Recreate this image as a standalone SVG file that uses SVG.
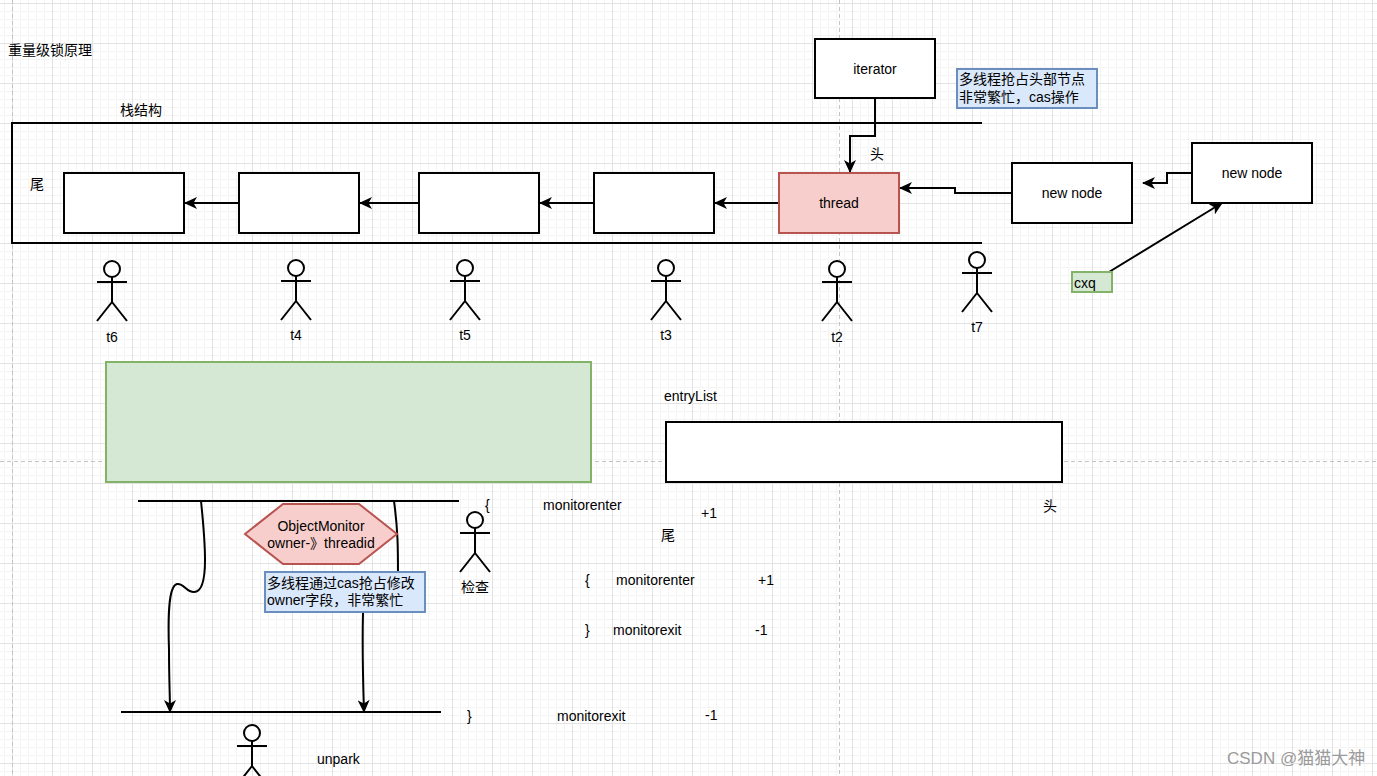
<svg xmlns="http://www.w3.org/2000/svg" width="1377" height="776" viewBox="0 0 1377 776">
<style>
text{font-family:"Liberation Sans","Noto Sans CJK SC",sans-serif;font-size:14px;fill:#000}
.c{text-anchor:middle}
.box{fill:#fff;stroke:#000;stroke-width:2}
.ln{fill:none;stroke:#000;stroke-width:2}
.conn{fill:none;stroke:#000;stroke-width:2;marker-end:url(#arr)}
.blue{fill:#dae8fc;stroke:#6c8ebf;stroke-width:2}
.red{fill:#f8cecc;stroke:#b85450;stroke-width:2}
.green{fill:#d5e8d4;stroke:#82b366;stroke-width:2}
.dash{stroke:#c4c4c4;stroke-width:1;stroke-dasharray:4 3;fill:none}
.wm{font-size:17px;fill:#9a9a9a}
</style>
<defs>
<marker id="arr" markerWidth="13" markerHeight="12" refX="12" refY="6" orient="auto" markerUnits="userSpaceOnUse" viewBox="0 0 13 12">
<path d="M0 0L13 6L0 12L3.500 6Z" fill="#000"/>
</marker>
<pattern id="minor" width="8" height="8" patternUnits="userSpaceOnUse" x="4" y="3">
<path d="M8 0.500H0.500V8" fill="none" stroke="#f4f4f4" stroke-width="1"/>
</pattern>
<pattern id="major" width="40" height="40" patternUnits="userSpaceOnUse" x="12" y="3">
<path d="M40 0.500H0.500V40" fill="none" stroke="#e2e2e2" stroke-width="1"/>
</pattern>
<g id="actor">
<circle cx="0" cy="0" r="8" fill="#fff" stroke="#000" stroke-width="2"/>
<path d="M0 8V33M-15 13H15M0 33L-15 52M0 33L15 52" class="ln"/>
</g>
</defs>
<rect width="1377" height="776" fill="#fff"/>
<rect width="1377" height="776" fill="url(#minor)"/>
<rect width="1377" height="776" fill="url(#major)"/>
<path class="dash" d="M12.500 0V776M839.500 0V776M0 461.500H1377"/>

<text x="8" y="55">重量级锁原理</text>
<text x="120" y="115">栈结构</text>
<text x="30" y="189">尾</text>
<text x="870" y="159">头</text>
<path class="ln" d="M982 123H12V243H982"/>
<path class="ln" d="M138 501H459M121 712H441"/>

<g id="connectors">
<path class="conn" d="M239 203H185"/>
<path class="conn" d="M419 203H360"/>
<path class="conn" d="M594 203H540"/>
<path class="conn" d="M779 203H715"/>
<path class="conn" d="M875 99V136H850V172"/>
<path class="conn" d="M1012 193H955V188H900"/>
<path class="conn" d="M1192 173H1167V183H1143"/>
<path class="conn" d="M1109 272L1222 203"/>
<path class="conn" d="M201 501C204 530 205 545 205 560C205 578 202 592 194 592C186 592 184 583 177 584C168 586 168 620 169 650C169 680 170 695 170 712"/>
<path class="conn" d="M394 501C398 530 398 550 398 575C398 590 366 600 363 613C362 650 363 680 364 712"/>
</g>

<g id="n-t6-box"><rect class="box" x="64" y="173" width="120" height="60"/></g>
<g id="n-t4-box"><rect class="box" x="239" y="173" width="120" height="60"/></g>
<g id="n-t5-box"><rect class="box" x="419" y="173" width="120" height="60"/></g>
<g id="n-t3-box"><rect class="box" x="594" y="173" width="120" height="60"/></g>
<g id="n-thread"><rect class="red" x="779" y="173" width="120" height="60"/><text class="c" x="839" y="208">thread</text></g>
<g id="n-iterator"><rect class="box" x="815" y="39" width="120" height="59"/><text class="c" x="875" y="74">iterator</text></g>
<g id="n-note1"><rect class="blue" x="957" y="69" width="140" height="39"/><text x="959" y="84">多线程抢占头部节点</text><text x="959" y="102">非常繁忙，cas操作</text></g>
<g id="n-new1"><rect class="box" x="1012" y="163" width="120" height="60"/><text class="c" x="1072" y="198">new node</text></g>
<g id="n-new2"><rect class="box" x="1192" y="143" width="120" height="60"/><text class="c" x="1252" y="178">new node</text></g>
<g id="n-cxq"><rect class="green" x="1072" y="272" width="40" height="20"/><text x="1074" y="288">cxq</text></g>

<g id="a-t6"><use href="#actor" x="112" y="269"/><text class="c" x="112" y="342">t6</text></g>
<g id="a-t4"><use href="#actor" x="296" y="268"/><text class="c" x="296" y="340">t4</text></g>
<g id="a-t5"><use href="#actor" x="465" y="268"/><text class="c" x="465" y="340">t5</text></g>
<g id="a-t3"><use href="#actor" x="666" y="268"/><text class="c" x="666" y="340">t3</text></g>
<g id="a-t2"><use href="#actor" x="837" y="269"/><text class="c" x="837" y="342">t2</text></g>
<g id="a-t7"><use href="#actor" x="977" y="260"/><text class="c" x="977" y="332">t7</text></g>

<g id="n-green"><rect class="green" x="106" y="362" width="485" height="120"/></g>
<text x="664" y="401">entryList</text>
<g id="n-entry"><rect class="box" x="666" y="422" width="396" height="60"/></g>
<text x="1043" y="511">头</text>
<text x="661" y="540">尾</text>

<g id="n-monitor"><path class="red" d="M245 534L283 504H359L397 534L359 564H283Z"/><text class="c" x="321" y="531">ObjectMonitor</text><text class="c" x="321" y="548">owner-》threadid</text></g>
<g id="n-note2"><rect class="blue" x="265" y="572" width="160" height="40"/><text x="267" y="588">多线程通过cas抢占修改</text><text x="267" y="605">owner字段，非常繁忙</text></g>
<g id="a-check"><use href="#actor" x="475" y="520"/><text class="c" x="475" y="592">检查</text></g>
<g id="a-unpark"><use href="#actor" x="252" y="733"/></g>
<text x="317" y="764">unpark</text>

<text x="485" y="510">{</text>
<text x="543" y="510">monitorenter</text>
<text x="701" y="518">+1</text>
<text x="585" y="585">{</text>
<text x="616" y="585">monitorenter</text>
<text x="758" y="585">+1</text>
<text x="585" y="635">}</text>
<text x="613" y="635">monitorexit</text>
<text x="755" y="635">-1</text>
<text x="467" y="721">}</text>
<text x="557" y="721">monitorexit</text>
<text x="705" y="720">-1</text>
<text class="wm" x="1227" y="764">CSDN @猫猫大神</text>
</svg>
